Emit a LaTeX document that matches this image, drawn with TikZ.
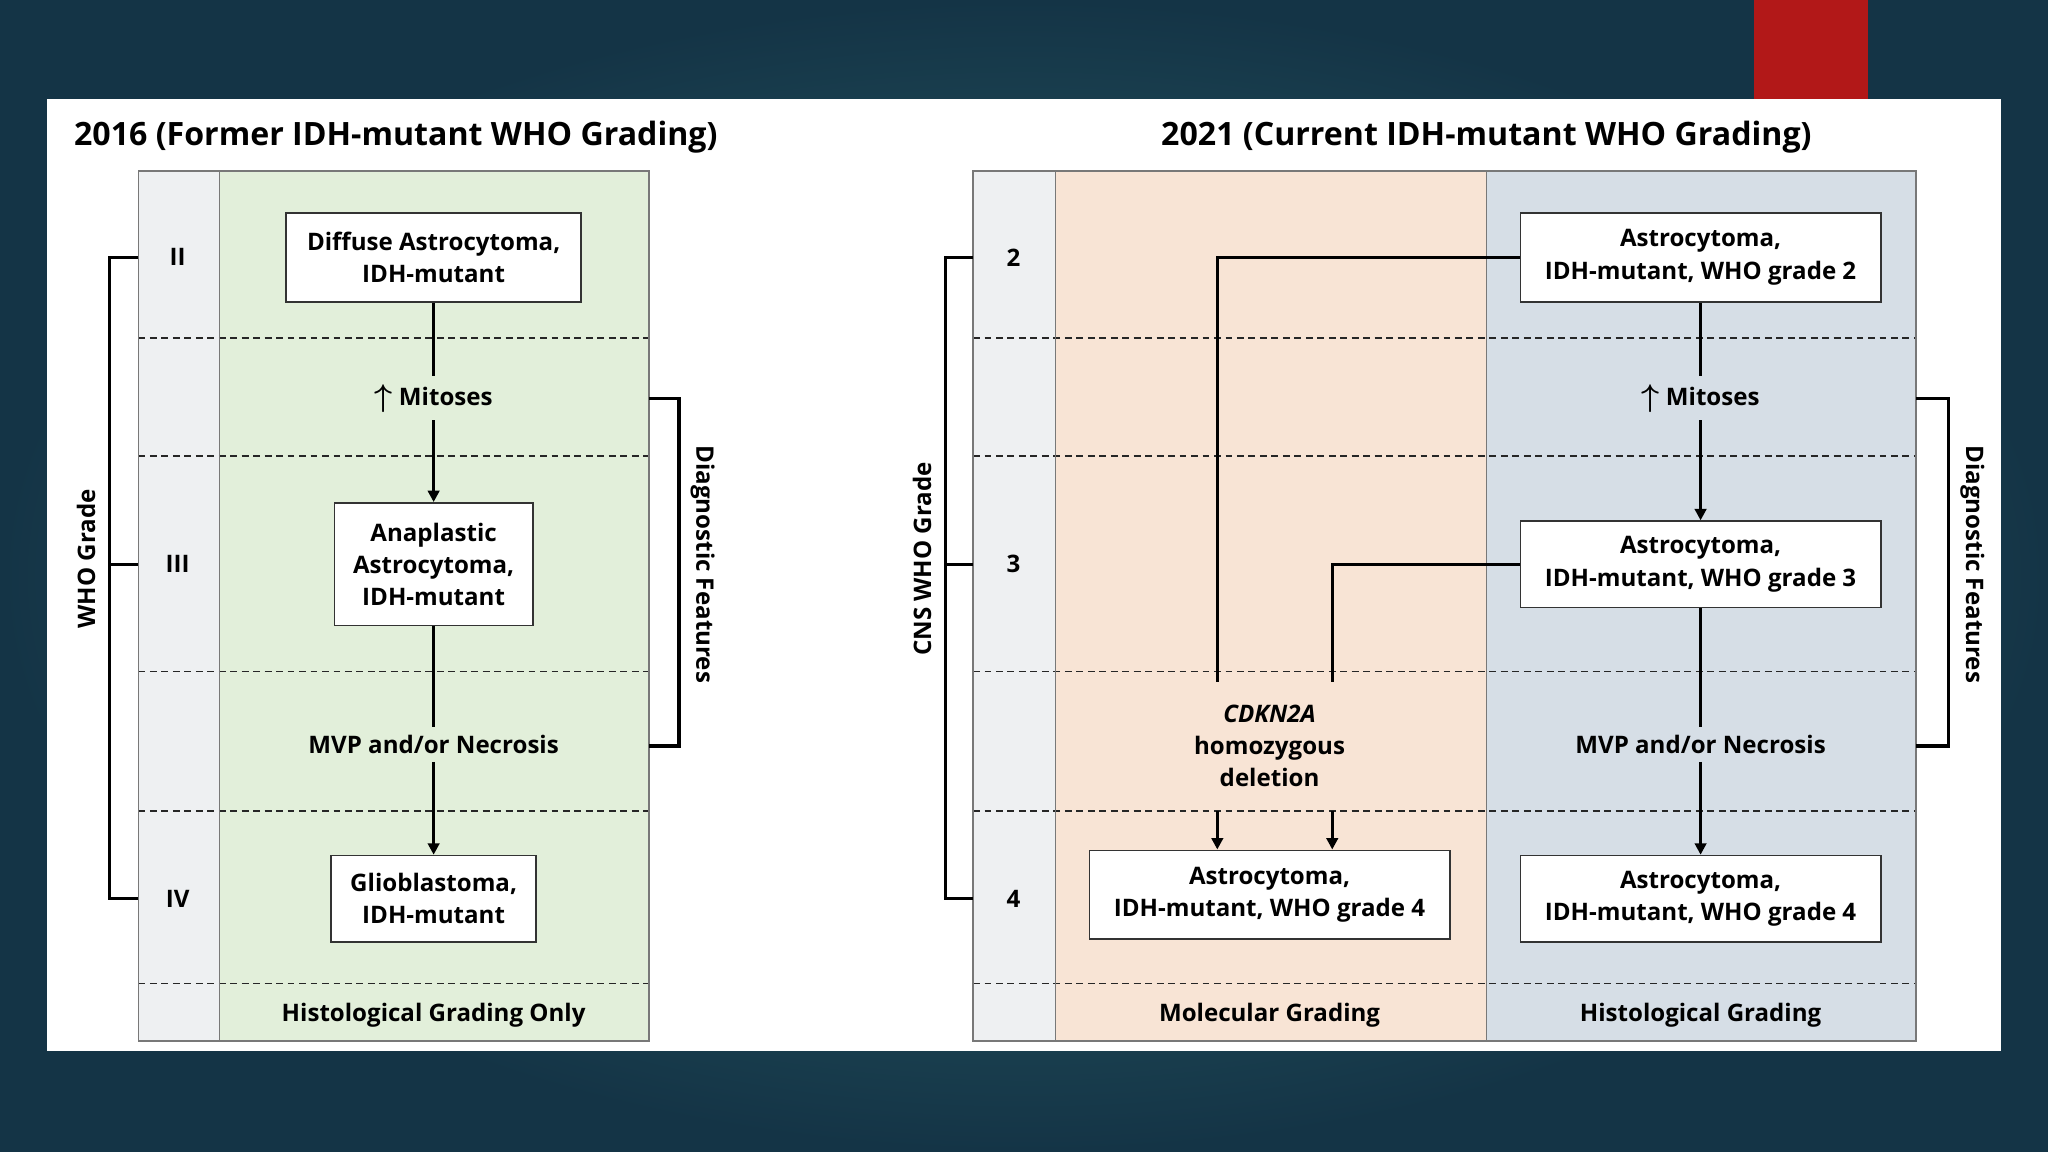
\documentclass[tikz,border=0pt]{standalone}
\usepackage{fontspec}
\usepackage{bm}
\setmainfont{Open Sans}
\usetikzlibrary{arrows.meta, positioning, calc}
\definecolor{bgdark}{RGB}{20,52,70}
\definecolor{bglight}{RGB}{48,108,114}
\definecolor{slidered}{RGB}{178,24,24}
\definecolor{gradegray}{RGB}{238,240,242}
\definecolor{histgreen}{RGB}{226,239,218}
\definecolor{molpeach}{RGB}{248,228,213}
\definecolor{histblue}{RGB}{214,222,230}
\definecolor{framegray}{RGB}{120,120,120}

\tikzset{
  gradebox/.style={draw=framegray, line width=0.6pt},
  divider/.style={densely dashed, line width=0.7pt, black!85},
  entity/.style={draw=black!80, fill=white, line width=0.7pt, align=center,
    font=\fontsize{10.5pt}{14pt}\selectfont\bfseries, inner sep=2pt},
  label/.style={align=center, font=\fontsize{10.5pt}{14pt}\selectfont\bfseries},
  flow/.style={line width=1.3pt, -{Triangle[length=5pt,width=5pt]}},
  link/.style={line width=1.3pt},
  bracket/.style={line width=1.5pt},
  title/.style={font=\fontsize{14pt}{17pt}\selectfont\bfseries}
}
\newcommand{\uparr}{\raisebox{-0.5pt}{\scalebox{1.25}{$\bm{\uparrow}$}}}

\begin{document}
\begin{tikzpicture}[x=0.02cm, y=-0.02cm]
    \useasboundingbox (0,0) rectangle (1568,882);
    % Slide background
    \shade[inner color=bglight, outer color=bgdark] (0,0) rectangle (1568,882);
    \fill[slidered] (1343,0) rectangle (1430,76);
    \fill[white] (36,76) rectangle (1532,805);

    % Left panel: 2016
    \node[title] (titleA) at (303,105) {2016 (Former IDH-mutant WHO Grading)};
    \fill[gradegray] (106,131) rectangle (168,797);
    \fill[histgreen] (168,131) rectangle (497,797);
    \foreach \y in {259,349,514,621,753}
        \draw[divider] (106,\y) -- (497,\y);
    \draw[gradebox] (106,131) rectangle (497,797);
    \draw[gradebox] (168,131) -- (168,797);

    \node[label] (gA2) at (136,197) {II};
    \node[label] (gA3) at (136,432) {III};
    \node[label] (gA4) at (136,688) {IV};

    \node[entity, minimum width=4.52cm, minimum height=1.36cm] (diffuse) at (332,197) {Diffuse Astrocytoma,\\IDH-mutant};
    \node[label] (mitA) at (332,305) {\uparr\ Mitoses};
    \node[entity, minimum width=3.04cm, minimum height=1.88cm] (anaplastic) at (332,432) {Anaplastic\\Astrocytoma,\\IDH-mutant};
    \node[label] (mvpA) at (332,570) {MVP and/or Necrosis};
    \node[entity, minimum width=3.14cm, minimum height=1.32cm] (gbm) at (332,688) {Glioblastoma,\\IDH-mutant};
    \node[label] (histA) at (332,777) {Histological Grading Only};

    \draw[link] (diffuse) -- (mitA);
    \draw[flow] (mitA) -- (anaplastic);
    \draw[link] (anaplastic) -- (mvpA);
    \draw[flow] (mvpA) -- (gbm);

    % Brackets
    \draw[bracket] (106,197) -- (84,197) -- (84,688) -- (106,688);
    \draw[bracket] (84,432) -- (106,432);
    \node[label, rotate=90] (whoA) at (66,428) {WHO Grade};
    \draw[bracket] (497,305) -- (520,305) -- (520,571) -- (497,571);
    \node[label, rotate=-90] (diagA) at (538,432) {Diagnostic Features};

    % Right panel: 2021
    \node[title] (titleB) at (1138,105) {2021 (Current IDH-mutant WHO Grading)};
    \fill[gradegray] (745,131) rectangle (808,797);
    \fill[molpeach] (808,131) rectangle (1138,797);
    \fill[histblue] (1138,131) rectangle (1467,797);
    \foreach \y in {259,349,514,621,753}
        \draw[divider] (745,\y) -- (1467,\y);
    \draw[gradebox] (745,131) rectangle (1467,797);
    \draw[gradebox] (808,131) -- (808,797);
    \draw[gradebox] (1138,131) -- (1138,797);

    \node[label] (gB2) at (776,197) {2};
    \node[label] (gB3) at (776,432) {3};
    \node[label] (gB4) at (776,688) {4};

    \node[entity, minimum width=5.52cm, minimum height=1.36cm] (astro2) at (1302,197) {Astrocytoma,\\IDH-mutant, WHO grade 2};
    \node[label] (mitB) at (1302,305) {\uparr\ Mitoses};
    \node[entity, minimum width=5.52cm, minimum height=1.32cm] (astro3) at (1302,432) {Astrocytoma,\\IDH-mutant, WHO grade 3};
    \node[label] (mvpB) at (1302,570) {MVP and/or Necrosis};
    \node[entity, minimum width=5.52cm, minimum height=1.32cm] (astro4h) at (1302,688) {Astrocytoma,\\IDH-mutant, WHO grade 4};
    \node[label] (histB) at (1302,777) {Histological Grading};

    \node[label] (cdkn) at (972,571) {\textit{CDKN2A}\\homozygous\\deletion};
    \node[entity, minimum width=5.52cm, minimum height=1.36cm] (astro4m) at (972,685) {Astrocytoma,\\IDH-mutant, WHO grade 4};
    \node[label] (molB) at (972,777) {Molecular Grading};

    \draw[link] (astro2) -- (mitB);
    \draw[flow] (mitB) -- (astro3);
    \draw[link] (astro3) -- (mvpB);
    \draw[flow] (mvpB) -- (astro4h);

    \coordinate (cdknL) at (932,522);
    \coordinate (cdknR) at (1020,522);
    \coordinate (outL) at (932,621);
    \coordinate (outR) at (1020,621);
    \draw[link] (astro2.west) -| (cdknL);
    \draw[link] (astro3.west) -| (cdknR);
    \draw[flow] (outL) -- (outL |- astro4m.north);
    \draw[flow] (outR) -- (outR |- astro4m.north);

    \draw[bracket] (745,197) -- (724,197) -- (724,688) -- (745,688);
    \draw[bracket] (724,432) -- (745,432);
    \node[label, rotate=90] (whoB) at (706,428) {CNS WHO Grade};
    \draw[bracket] (1467,305) -- (1492,305) -- (1492,571) -- (1467,571);
    \node[label, rotate=-90] (diagB) at (1510,432) {Diagnostic Features};
\end{tikzpicture}
\end{document}
